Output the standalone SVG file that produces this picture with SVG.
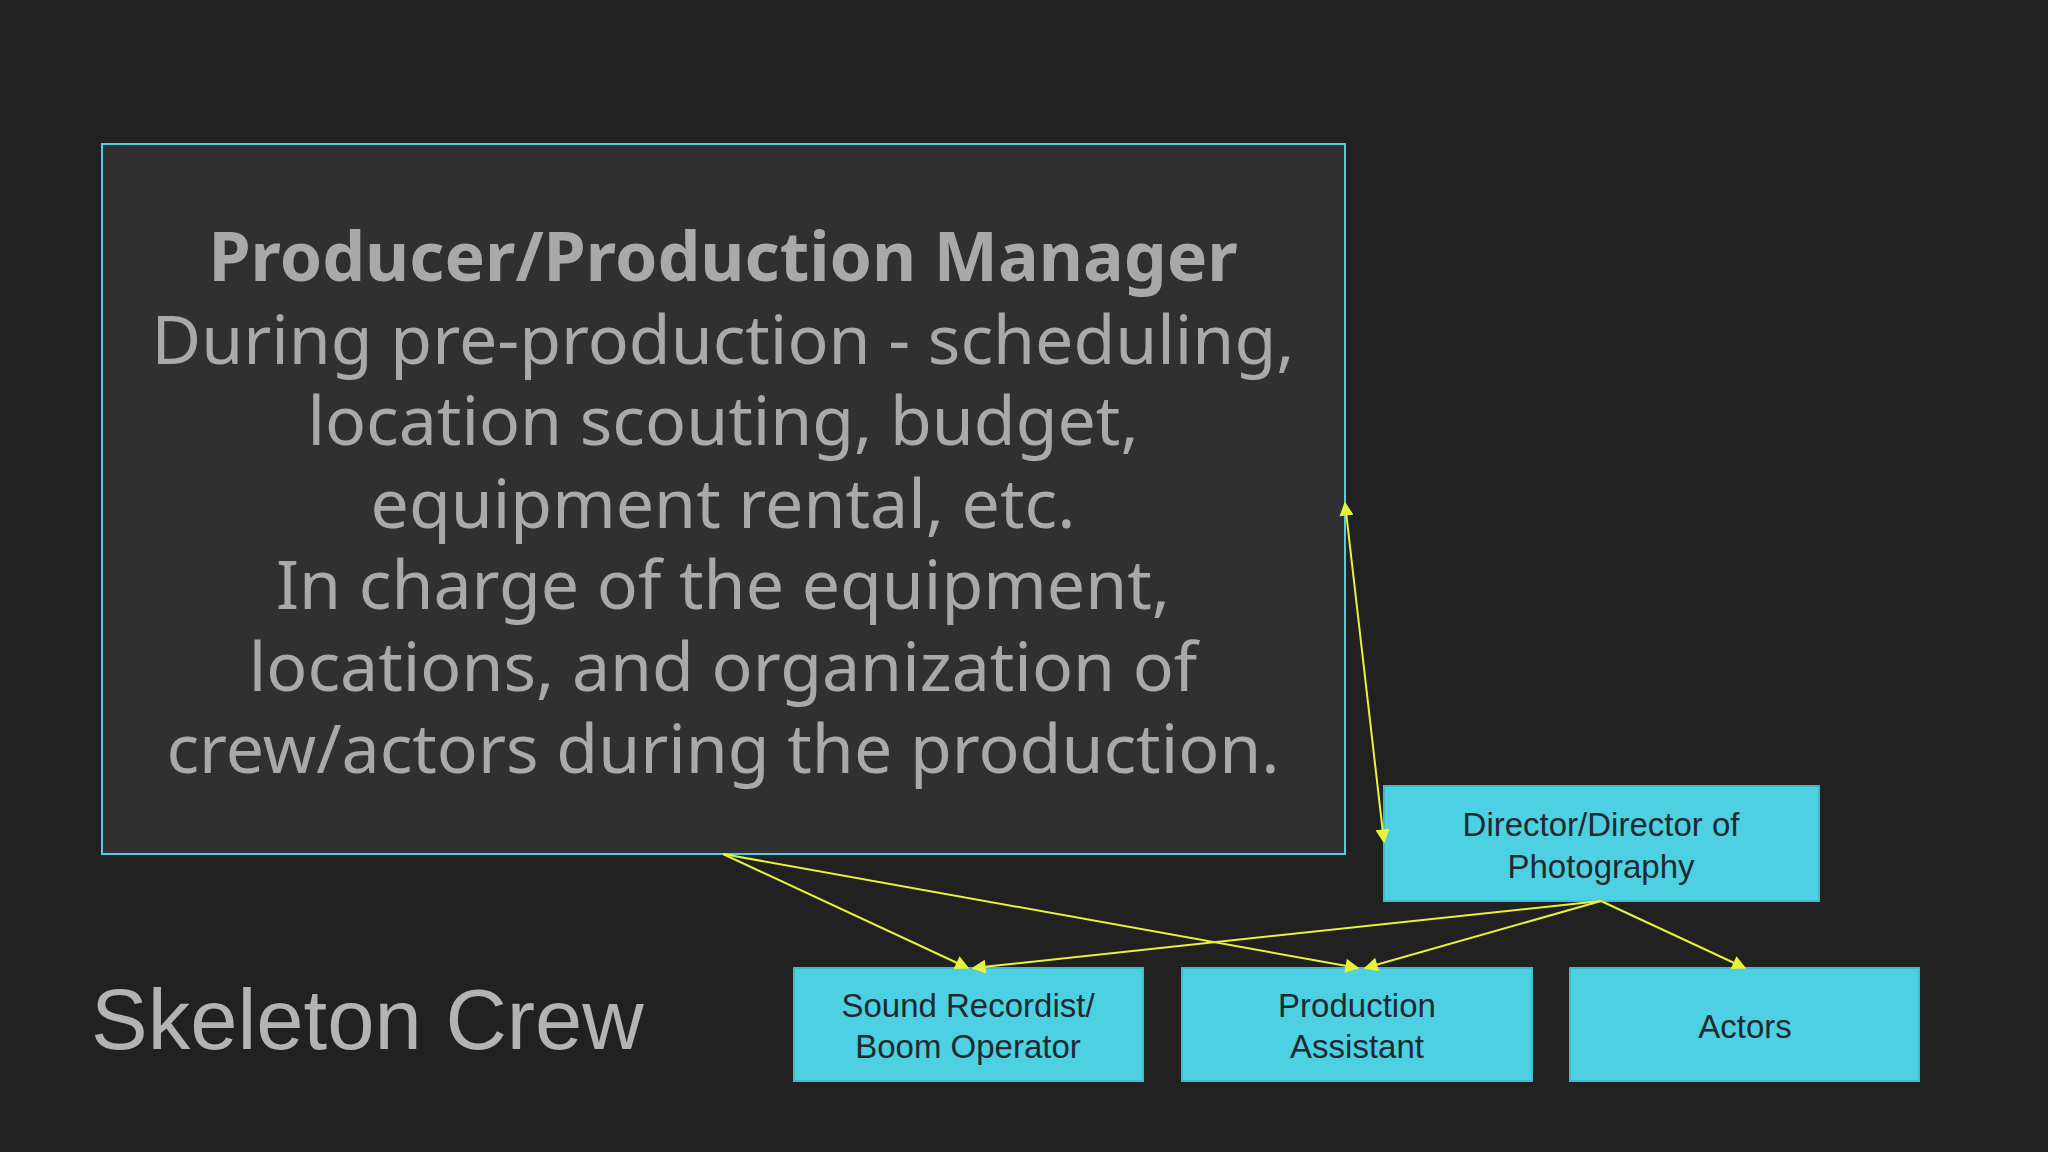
<svg xmlns="http://www.w3.org/2000/svg" width="2048" height="1152" viewBox="0 0 2048 1152">
<defs>
<style>
.box{fill:#4dd0e1;stroke:#3bbccf;stroke-width:2}
.bt{font-family:"Liberation Sans",Arial,sans-serif;font-size:33px;fill:#1f2a30;text-anchor:middle}
.big{font-family:"Noto Sans","Open Sans",sans-serif;font-size:68px;fill:#a9a9a9;text-anchor:middle}
.c{stroke:#e8f23a;stroke-width:2;fill:none}
</style>
<marker id="a" viewBox="0 0 10 10" refX="9" refY="5" markerWidth="16" markerHeight="14" orient="auto-start-reverse" markerUnits="userSpaceOnUse"><path d="M0,0 L10,5 L0,10 z" fill="#e8f23a"/></marker>
</defs>
<rect width="2048" height="1152" fill="#212121"/>
<g id="producer">
<rect x="102" y="144" width="1243" height="710" fill="#303030" stroke="#4dd0e1" stroke-width="2"/>
<text class="big"><tspan x="723" y="281" font-weight="bold">Producer/Production Manager</tspan><tspan x="723" y="364">During pre-production - scheduling,</tspan><tspan x="723" y="445">location scouting, budget,</tspan><tspan x="723" y="528">equipment rental, etc.</tspan><tspan x="723" y="609">In charge of the equipment,</tspan><tspan x="723" y="691">locations, and organization of</tspan><tspan x="723" y="773">crew/actors during the production.</tspan></text>
</g>
<g id="director"><rect class="box" x="1384" y="786" width="435" height="115"/><text class="bt"><tspan x="1601" y="836">Director/Director of</tspan><tspan x="1601" y="878">Photography</tspan></text></g>
<g id="sound"><rect class="box" x="794" y="968" width="349" height="113"/><text class="bt"><tspan x="968" y="1017">Sound Recordist/</tspan><tspan x="968" y="1058">Boom Operator</tspan></text></g>
<g id="pa"><rect class="box" x="1182" y="968" width="350" height="113"/><text class="bt"><tspan x="1357" y="1017">Production</tspan><tspan x="1357" y="1058">Assistant</tspan></text></g>
<g id="actors"><rect class="box" x="1570" y="968" width="349" height="113"/><text class="bt" x="1745" y="1038">Actors</text></g>
<text x="91" y="1049" font-family="Liberation Sans,Arial,sans-serif" font-size="85" fill="#b3b3b3">Skeleton Crew</text>
<g id="connectors">
<line class="c" x1="1345" y1="503" x2="1384" y2="842" marker-start="url(#a)" marker-end="url(#a)"/>
<line class="c" x1="723" y1="854" x2="968" y2="968" marker-end="url(#a)"/>
<line class="c" x1="723" y1="854" x2="1358" y2="968" marker-end="url(#a)"/>
<line class="c" x1="1601" y1="901" x2="973" y2="968" marker-end="url(#a)"/>
<line class="c" x1="1601" y1="901" x2="1365" y2="968" marker-end="url(#a)"/>
<line class="c" x1="1601" y1="901" x2="1745" y2="968" marker-end="url(#a)"/>
</g>
</svg>
